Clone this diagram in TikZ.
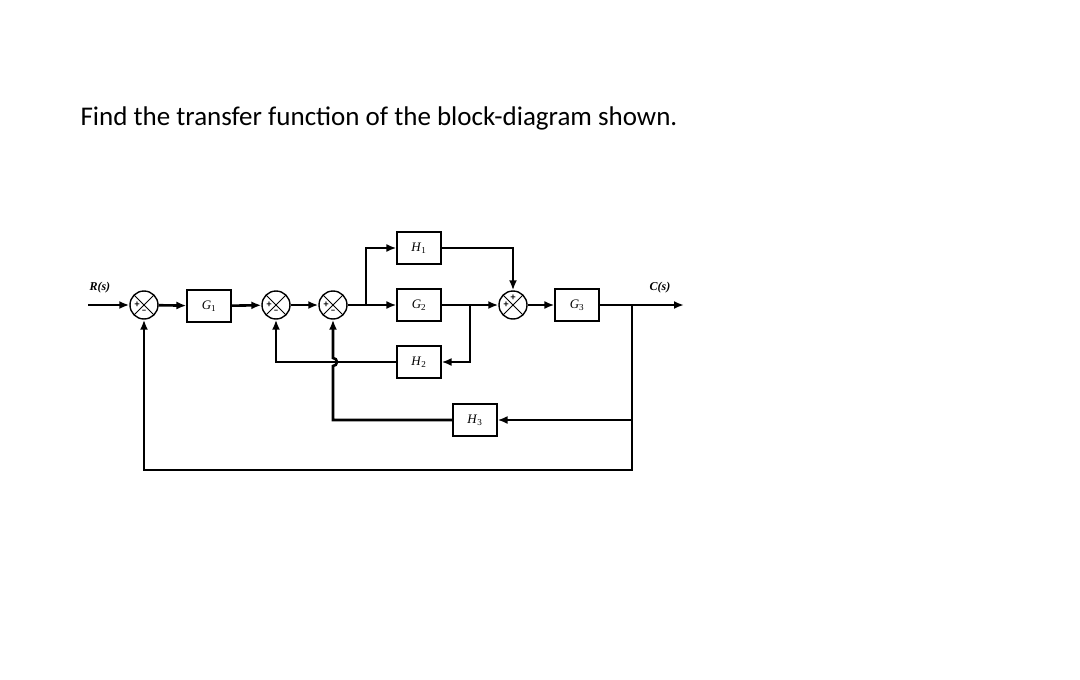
\documentclass[tikz,border=0pt]{standalone}
\usepackage{fontspec}
\setmainfont{Carlito}
\newfontfamily\serifl{Liberation Serif}
\usetikzlibrary{arrows.meta}
\newcommand{\bl}[2]{\textit{#1}\textsubscript{#2}}
\begin{document}
\begin{tikzpicture}[x=1pt,y=-1pt,
  blk/.style={draw,line width=1.2pt,minimum width=44pt,minimum height=32pt,inner sep=0pt,font=\serifl\fontsize{13}{13}\selectfont},
  sumj/.style={draw,circle,line width=1.4pt,minimum size=28pt,inner sep=0pt,path picture={\draw[line width=1pt] (path picture bounding box.north west)--(path picture bounding box.south east) (path picture bounding box.north east)--(path picture bounding box.south west);}},
  sg/.style={font=\bfseries\fontsize{10}{10}\selectfont,inner sep=0pt},
  ln/.style={line width=2.6pt},
  ar/.style={line width=2.6pt,-{Latex[length=10pt,width=8pt]}},
  lab/.style={font=\serifl\bfseries\itshape\fontsize{12}{12}\selectfont}]
\useasboundingbox (0,0) rectangle (1080,680);
\node[anchor=west,font=\fontsize{27}{30}\selectfont] (title) at (77,118) {Find the transfer function of the block-diagram shown.};
\node[sumj] (s1) at (144,305) {};
\node[blk] (g1) at (209,306) {\bl{G}{1}};
\node[sumj] (s2) at (276,305) {};
\node[sumj] (s3) at (333,305) {};
\node[blk] (h1) at (419,248) {\bl{H}{1}};
\node[blk] (g2) at (419,305) {\bl{G}{2}};
\node[blk] (h2) at (419,362) {\bl{H}{2}};
\node[sumj] (s4) at (513,305) {};
\node[blk] (g3) at (577,305) {\bl{G}{3}};
\node[blk] (h3) at (475,420) {\bl{H}{3}};
\foreach \s in {s1,s2,s3}{
  \node[sg] at ([xshift=-7pt]\s.center) {+};
  \node[sg] at ([yshift=-7pt]\s.center) {--};}
\node[sg] at ([xshift=-7pt]s4.center) {+};
\node[sg] at ([yshift=7pt]s4.center) {+};
\coordinate (rin) at (88,305);
\coordinate (cout) at (684,305);
\coordinate (b1) at (366,305);
\coordinate (b2) at (470,305);
\coordinate (b3) at (632,305);
\node[lab,anchor=south west] (rl) at (86,297) {R(s)};
\node[lab,anchor=south] (cl) at (660,297) {C(s)};
\draw[ar] (rin) -- (s1);
\draw[ar] (s1) -- (g1);
\draw[ar] (g1) -- (s2);
\draw[ar] (s2) -- (s3);
\draw[ln] (s3) -- (b1);
\draw[ar] (b1) -- (g2);
\draw[ar] (b1) |- (h1);
\draw[ar] (h1.east) -| (s4.north);
\draw[ar] (g2) -- (s4);
\draw[ar] (b2) |- (h2.east);
\draw[ar] (s4) -- (g3);
\draw[ar] (g3) -- (cout);
\draw[ar] (h2.west) -| (s2.south);
\draw[ar] (b3) |- (h3.east);
\draw[ar] (h3.west) -| (333,366) arc[start angle=-90,end angle=90,radius=4pt] -- (s3.south);
\draw[ar] (b3) |- (144,470) -- (s1.south);
\end{tikzpicture}
\end{document}
